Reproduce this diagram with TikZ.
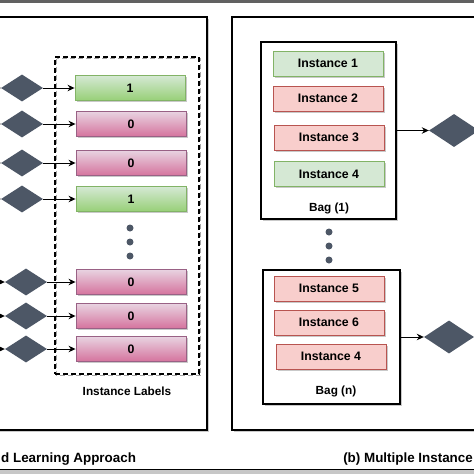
\documentclass[tikz,border=0pt]{standalone}
\usepackage{fontspec}
\setmainfont{Liberation Sans}
\usetikzlibrary{shapes.geometric,shadows,arrows.meta}

\definecolor{slate}{HTML}{4D5766}
\definecolor{greenlight}{HTML}{D5E8D4}
\definecolor{greendark}{HTML}{97D077}
\definecolor{greenline}{HTML}{82B366}
\definecolor{pinklight}{HTML}{E8D3E1}
\definecolor{pinkdark}{HTML}{D5739D}
\definecolor{pinkline}{HTML}{996185}
\definecolor{redfill}{HTML}{F8CECC}
\definecolor{redline}{HTML}{B85450}

\tikzset{
  softshadow/.style={drop shadow={shadow xshift=1.5pt,shadow yshift=-1.5pt,opacity=0.35,fill=black!60}},
  labelbox/.style={draw, line width=0.9pt, minimum width=110pt, minimum height=25pt, inner sep=0pt,
                   font=\fontsize{12.3}{14}\selectfont\bfseries, softshadow},
  poslabel/.style={labelbox, draw=greenline, top color=greenlight, bottom color=greendark},
  neglabel/.style={labelbox, draw=pinkline, top color=pinklight, bottom color=pinkdark},
  posinst/.style={labelbox, draw=greenline, fill=greenlight},
  neginst/.style={labelbox, draw=redline, fill=redfill},
  decision/.style={diamond, fill=slate, inner sep=0pt, minimum width=42pt, minimum height=27pt},
  bigdecision/.style={decision, minimum width=50pt, minimum height=33pt},
  dot/.style={circle, fill=slate, inner sep=0pt, minimum size=7pt},
  panel/.style={draw, line width=1.2pt, fill=white, softshadow},
  bagbox/.style={draw, line width=1.1pt, fill=white, inner sep=0pt, softshadow},
  boxtext/.style={font=\fontsize{11.8}{13}\selectfont\bfseries, inner sep=0pt},
  caption/.style={font=\fontsize{13.4}{16}\selectfont\bfseries, inner sep=0pt},
  link/.style={-{Stealth[length=7pt,width=6.5pt]}, line width=0.9pt},
}

\begin{document}
\begin{tikzpicture}[x=1pt,y=-1pt]
        \useasboundingbox (0,0) rectangle (474,474);
        \clip (0,0) rectangle (474,474);

        % page strips
        \fill[black!62] (0,0) rectangle (474,2.5);
        \fill[black!22] (0,469.5) rectangle (474,474);
        \draw[line width=1pt] (0,469.5) -- (474,469.5);

        % panels
        \draw[panel] (-10,17) rectangle (207,430);
        \draw[panel] (232,17) rectangle (484,430);

        % (a) instance labels
        \draw[black!35, line width=1.3pt, dash pattern=on 5pt off 3pt] (56.5,58.5) rectangle (200.5,375.5);
        \node[draw, line width=1.3pt, dash pattern=on 5pt off 3pt, minimum width=144pt,
              minimum height=317pt, inner sep=0pt] (frame) at (127,215.5) {};
        \node[poslabel] (l1) at (130,88) {1};
        \node[neglabel] (l2) at (131,124) {0};
        \node[neglabel] (l3) at (131,163) {0};
        \node[poslabel] (l4) at (131,199) {1};
        \node[neglabel] (l5) at (131,282) {0};
        \node[neglabel] (l6) at (131,316) {0};
        \node[neglabel] (l7) at (131,349) {0};
        \node[dot] (ldot1) at (130,228) {};
        \node[dot] (ldot2) at (130,242) {};
        \node[dot] (ldot3) at (130,256) {};
        \node[boxtext] (frametitle) at (127,391) {Instance Labels};

        % (a) classifiers
        \node[decision] (d1) at (22,88) {};
        \node[decision] (d2) at (22,124) {};
        \node[decision] (d3) at (22,163) {};
        \node[decision] (d4) at (22,199) {};
        \node[decision] (d5) at (26,282) {};
        \node[decision] (d6) at (26,316) {};
        \node[decision] (d7) at (26,349) {};
        \coordinate (in1) at (-10,88);
        \coordinate (in2) at (-10,124);
        \coordinate (in3) at (-10,163);
        \coordinate (in4) at (-10,199);
        \coordinate (in5) at (-10,282);
        \coordinate (in6) at (-10,316);
        \coordinate (in7) at (-10,349);
        \draw[link] (in1) -- (d1);
        \draw[link] (in2) -- (d2);
        \draw[link] (in3) -- (d3);
        \draw[link] (in4) -- (d4);
        \draw[link] (in5) -- (d5);
        \draw[link] (in6) -- (d6);
        \draw[link] (in7) -- (d7);
        \draw[link] (d1) -- (l1);
        \draw[link] (d2) -- (l2);
        \draw[link] (d3) -- (l3);
        \draw[link] (d4) -- (l4);
        \draw[link] (d5) -- (l5);
        \draw[link] (d6) -- (l6);
        \draw[link] (d7) -- (l7);

        % (b) bags
        \node[bagbox, minimum width=135pt, minimum height=177pt] (bag1) at (328.5,130.5) {};
        \node[posinst] (i1) at (328,63.5) {Instance 1};
        \node[neginst] (i2) at (328,98.5) {Instance 2};
        \node[neginst] (i3) at (329,137.5) {Instance 3};
        \node[posinst] (i4) at (329,174) {Instance 4};
        \node[boxtext] (bag1title) at (329,208) {Bag (1)};
        \node[dot] (rdot1) at (329,232) {};
        \node[dot] (rdot2) at (329,246) {};
        \node[dot] (rdot3) at (329,260) {};
        \node[bagbox, minimum width=137pt, minimum height=134pt] (bagn) at (331.5,337) {};
        \node[neginst] (i5) at (329,288.5) {Instance 5};
        \node[neginst] (i6) at (329,322.5) {Instance 6};
        \node[neginst] (i7) at (331,356.5) {Instance 4};
        \node[boxtext] (bagntitle) at (336,391) {Bag (n)};

        % (b) classifiers
        \node[bigdecision] (d8) at (454,130.5) {};
        \node[bigdecision] (d9) at (449,337) {};
        \draw[link] (bag1) -- (d8);
        \draw[link] (bagn) -- (d9);

        % captions
        \node[caption, anchor=base west] (capa) at (1,462) {d Learning Approach};
        \node[caption, anchor=base east] (capb) at (473,462) {(b) Multiple Instance};
\end{tikzpicture}
\end{document}
